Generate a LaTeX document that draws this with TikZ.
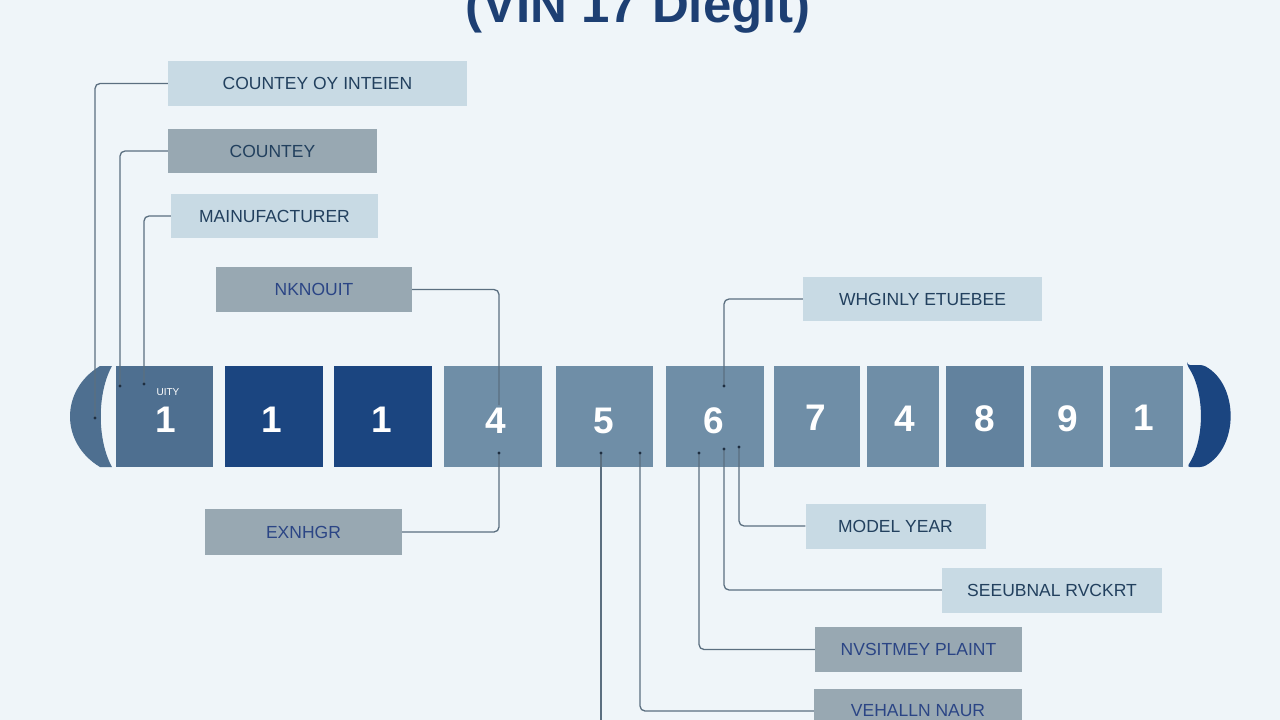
\documentclass[tikz,border=0pt]{standalone}
\usepackage{fontspec}
\setmainfont{Liberation Sans}
\definecolor{bg}{HTML}{EFF5F9}
\definecolor{lightbox}{HTML}{C8DAE4}
\definecolor{greybox}{HTML}{98A8B2}
\definecolor{txtdark}{HTML}{22405E}
\definecolor{txtblue}{HTML}{2B4585}
\definecolor{steel}{HTML}{4E6F90}
\definecolor{navy}{HTML}{1B4580}
\definecolor{slate}{HTML}{6F8EA7}
\definecolor{slatedk}{HTML}{62829E}
\definecolor{conncol}{HTML}{5B6F80}
\definecolor{dotcol}{HTML}{1E2E40}
\definecolor{titlecol}{HTML}{1D3F73}
\begin{document}
\begin{tikzpicture}[x=1pt,y=-1pt,
  lbox/.style={fill=lightbox,inner sep=0pt,text=txtdark,font=\fontsize{17.5}{17.5}\selectfont},
  gbox/.style={fill=greybox,inner sep=0pt,text=txtblue,font=\fontsize{17.5}{17.5}\selectfont},
  cell/.style={inner sep=0pt,minimum height=101pt},
  digit/.style={text=white,font=\fontsize{37}{37}\selectfont\bfseries,inner sep=0pt},
  conn/.style={draw=conncol,line width=1.3pt,rounded corners=5pt},
  dot/.style={fill=dotcol}]
\useasboundingbox (0,0) rectangle (1280,720);
\fill[bg] (0,0) rectangle (1280,720);
% title
\node[anchor=base,text=titlecol,font=\fontsize{51}{51}\selectfont\bfseries,inner sep=0pt] (title) at (638,23) {(VIN 17 Dlegit)};
% brackets
\fill[steel] (112,366) -- (100,366) .. controls (60,390) and (60,443) .. (100,467) -- (112,467) .. controls (97,440) and (97,393) .. (112,366) -- cycle;
\fill[navy,rounded corners=3pt] (1187,365) -- (1203,365) .. controls (1239,385) and (1239,447) .. (1203,467) -- (1187,467) .. controls (1205,440) and (1205,392) .. (1187,365) -- cycle;
% cells
\node[cell,fill=steel,minimum width=97pt] (c1) at (164.5,416.5) {};
\node[cell,fill=navy,minimum width=98pt] (c2) at (274,416.5) {};
\node[cell,fill=navy,minimum width=98pt] (c3) at (383,416.5) {};
\node[cell,fill=slate,minimum width=98pt] (c4) at (493,416.5) {};
\node[cell,fill=slate,minimum width=97pt] (c5) at (604.5,416.5) {};
\node[cell,fill=slate,minimum width=98pt] (c6) at (715,416.5) {};
\node[cell,fill=slate,minimum width=86pt] (c7) at (817,416.5) {};
\node[cell,fill=slate,minimum width=72pt] (c8) at (903,416.5) {};
\node[cell,fill=slatedk,minimum width=78pt] (c9) at (985,416.5) {};
\node[cell,fill=slate,minimum width=72pt] (c10) at (1067,416.5) {};
\node[cell,fill=slate,minimum width=73pt] (c11) at (1146.5,416.5) {};
% digits
\node[digit] (d1) at (166,420) {1};
\node[text=white,font=\fontsize{10}{10}\selectfont,inner sep=0pt] (u1) at (168,392) {UITY};
\node[digit] (d2) at (272,420) {1};
\node[digit] (d3) at (382,420) {1};
\node[digit] (d4) at (496,421) {4};
\node[digit] (d5) at (604,421) {5};
\node[digit] (d6) at (714,421) {6};
\node[digit] (d7) at (816,418) {7};
\node[digit] (d8) at (905,419) {4};
\node[digit] (d9) at (985,419) {8};
\node[digit] (d10) at (1068,419) {9};
\node[digit] (d11) at (1144,418) {1};
% label boxes
\node[lbox,minimum width=299pt,minimum height=45pt] (coi) at (317.5,83.5) {COUNTEY OY INTEIEN};
\node[gbox,text=txtdark,minimum width=209pt,minimum height=44pt] (cty) at (272.5,151) {COUNTEY};
\node[lbox,minimum width=207pt,minimum height=44pt] (mfr) at (274.5,216) {MAINUFACTURER};
\node[gbox,minimum width=196pt,minimum height=45pt] (nk) at (314,289.5) {NKNOUIT};
\node[lbox,minimum width=239pt,minimum height=44pt] (wh) at (922.5,299) {WHGINLY ETUEBEE};
\node[gbox,minimum width=197pt,minimum height=46pt] (exn) at (303.5,532) {EXNHGR};
\node[lbox,minimum width=180pt,minimum height=45pt] (my) at (895.5,526) {MODEL YEAR};
\node[lbox,minimum width=220pt,minimum height=45pt] (ser) at (1052,590) {SEEUBNAL RVCKRT};
\node[gbox,minimum width=207pt,minimum height=45pt] (nvs) at (918.5,649.5) {NVSITMEY PLAINT};
\node[gbox,minimum width=208pt,minimum height=44pt] (veh) at (918,711) {VEHALLN NAUR};
% connector end points
\coordinate (p0) at (95,418);
\coordinate (p1) at (120,386);
\coordinate (p2) at (144,384);
\coordinate (p4t) at (499,405);
\coordinate (p4b) at (499,453);
\coordinate (p5a) at (601,453);
\coordinate (p5b) at (640,453);
\coordinate (p5end) at (601,720);
\coordinate (p6t) at (724,386);
\coordinate (p6a) at (699,453);
\coordinate (p6b) at (724,449);
\coordinate (p6c) at (739,447);
% connectors
\draw[conn] (coi.west) -| (p0);
\draw[conn] (cty.west) -| (p1);
\draw[conn] (mfr.west) -| (p2);
\draw[conn] (nk.east) -| (p4t);
\draw[conn] (p4b) |- (exn.east);
\draw[conn] (p5a) -- (p5end);
\draw[conn] (p5b) |- (veh.west);
\draw[conn] (wh.west) -| (p6t);
\draw[conn] (p6c) |- (my.west);
\draw[conn] (p6b) |- (ser.west);
\draw[conn] (p6a) |- (nvs.west);
% dots
\foreach \p in {p0,p1,p2,p4b,p5a,p5b,p6t,p6a,p6b,p6c} \fill[dot] (\p) circle (1.6pt);
\end{tikzpicture}
\end{document}
